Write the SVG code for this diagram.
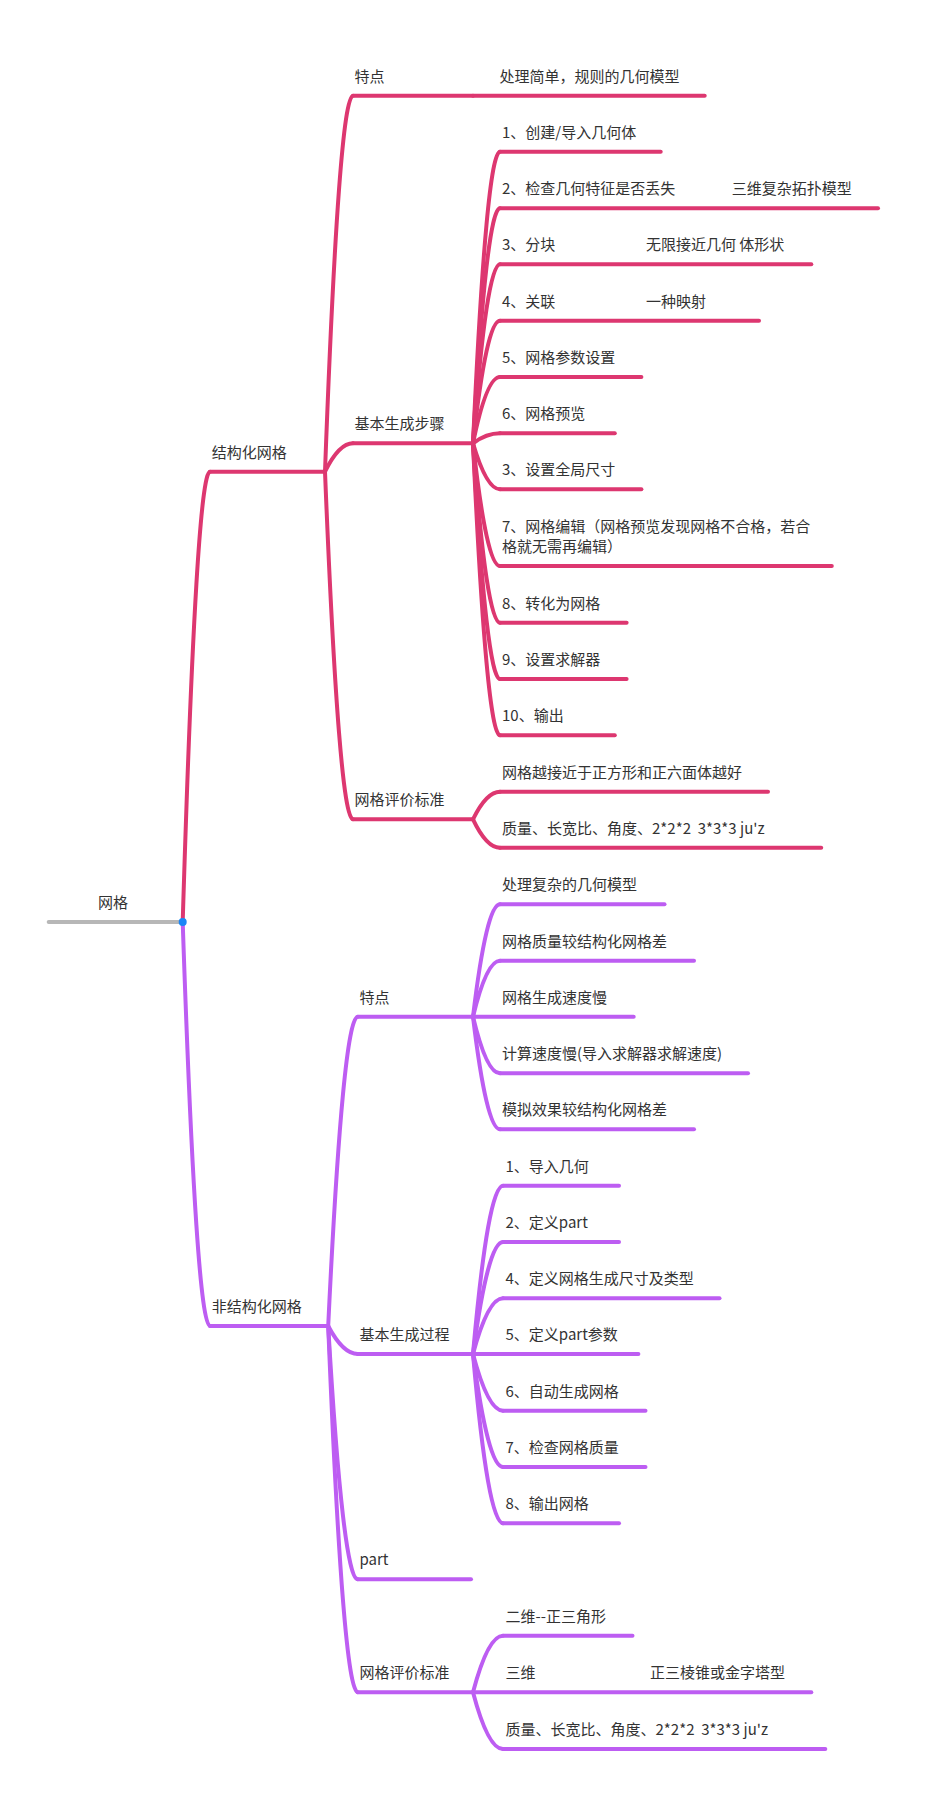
<svg xmlns="http://www.w3.org/2000/svg" width="927" height="1798" viewBox="0 0 927 1798">
<style>
.t{font-family:"Noto Sans CJK SC","Noto Sans",sans-serif;font-size:15px;fill:#333333}
.pk{stroke:#DD3770;stroke-width:4;fill:none;stroke-linecap:round;stroke-linejoin:round}
.pu{stroke:#BD5DF2;stroke-width:4;fill:none;stroke-linecap:round;stroke-linejoin:round}
</style>
<rect width="927" height="1798" fill="#ffffff"/>
<g id="connectors">
  <!-- root trunk -->
  <path class="pk" d="M182.7 922 Q196.4 471.7 210 471.7"/>
  <path class="pu" d="M182.7 922 Q196.4 1326 210 1326"/>
  <!-- structured L1 -> L2 -->
  <path class="pk" d="M325 471.7 Q339 95.7 353 95.7"/>
  <path class="pk" d="M325 471.7 Q339 443.3 353 443.3"/>
  <path class="pk" d="M325 471.7 Q339 819.3 353 819.3"/>
  <!-- structured steps -->
  <path class="pk" d="M473 443.3 Q486.5 151.7 500 151.7"/>
  <path class="pk" d="M473 443.3 Q486.5 208.3 500 208.3"/>
  <path class="pk" d="M473 443.3 Q486.5 264.3 500 264.3"/>
  <path class="pk" d="M473 443.3 Q486.5 320.7 500 320.7"/>
  <path class="pk" d="M473 443.3 Q486.5 377 500 377"/>
  <path class="pk" d="M473 443.3 Q486.5 433.3 500 433.3"/>
  <path class="pk" d="M473 443.3 Q486.5 489.3 500 489.3"/>
  <path class="pk" d="M473 443.3 Q486.5 566 500 566"/>
  <path class="pk" d="M473 443.3 Q486.5 622.7 500 622.7"/>
  <path class="pk" d="M473 443.3 Q486.5 679 500 679"/>
  <path class="pk" d="M473 443.3 Q486.5 735.3 500 735.3"/>
  <!-- structured evaluation -->
  <path class="pk" d="M473 819.3 Q486.5 791.7 500 791.7"/>
  <path class="pk" d="M473 819.3 Q486.5 847.7 500 847.7"/>
  <!-- unstructured L1 -> L2 -->
  <path class="pu" d="M328.2 1326 Q343 1016.7 357.8 1016.7"/>
  <path class="pu" d="M328.2 1326 Q343 1354 357.8 1354"/>
  <path class="pu" d="M328.2 1326 Q343 1579.3 357.8 1579.3"/>
  <path class="pu" d="M328.2 1326 Q343 1692.2 357.8 1692.2"/>
  <!-- unstructured features -->
  <path class="pu" d="M473 1016.7 Q486.5 904.3 500 904.3"/>
  <path class="pu" d="M473 1016.7 Q486.5 960.7 500 960.7"/>
  <path class="pu" d="M473 1016.7 Q486.5 1073.3 500 1073.3"/>
  <path class="pu" d="M473 1016.7 Q486.5 1129.3 500 1129.3"/>
  <!-- unstructured process -->
  <path class="pu" d="M473 1354 Q488 1185.7 503 1185.7"/>
  <path class="pu" d="M473 1354 Q488 1242 503 1242"/>
  <path class="pu" d="M473 1354 Q488 1298.3 503 1298.3"/>
  <path class="pu" d="M473 1354 Q488 1410.7 503 1410.7"/>
  <path class="pu" d="M473 1354 Q488 1467 503 1467"/>
  <path class="pu" d="M473 1354 Q488 1523.3 503 1523.3"/>
  <!-- unstructured evaluation -->
  <path class="pu" d="M473 1692.2 Q488 1635.7 503 1635.7"/>
  <path class="pu" d="M473 1692.2 Q488 1749 503 1749"/>
</g>

<g id="root">
  <line x1="48.7" y1="922" x2="182" y2="922" stroke="#B7B7B7" stroke-width="4" stroke-linecap="round"/>
  <text class="t" x="98" y="908">网格</text>
  <circle cx="182.7" cy="922" r="4" fill="#1A86F7"/>
</g>

<!-- structured -->
<g id="n-structured">
  <line class="pk" x1="210" y1="471.7" x2="325" y2="471.7"/>
  <text class="t" x="211.7" y="457.7">结构化网格</text>
</g>
<g id="n-s-feature">
  <line class="pk" x1="353" y1="95.7" x2="473" y2="95.7"/>
  <text class="t" x="354.5" y="81.7">特点</text>
</g>
<g id="n-s-feature-1">
  <line class="pk" x1="473" y1="95.7" x2="704.7" y2="95.7"/>
  <text class="t" x="499.5" y="81.7">处理简单，规则的几何模型</text>
</g>
<g id="n-s-steps">
  <line class="pk" x1="353" y1="443.3" x2="473" y2="443.3"/>
  <text class="t" x="354.5" y="429.3">基本生成步骤</text>
</g>
<g id="n-s-step-1">
  <line class="pk" x1="500" y1="151.7" x2="660.7" y2="151.7"/>
  <text class="t" x="502" y="137.7">1、创建/导入几何体</text>
</g>
<g id="n-s-step-2">
  <line class="pk" x1="500" y1="208.3" x2="878" y2="208.3"/>
  <text class="t" y="194.3"><tspan x="502">2、检查几何特征是否丢失</tspan><tspan x="731.7">三维复杂拓扑模型</tspan></text>
</g>
<g id="n-s-step-3">
  <line class="pk" x1="500" y1="264.3" x2="811.3" y2="264.3"/>
  <text class="t" y="250.3"><tspan x="502">3、分块</tspan><tspan x="646">无限接近几何 体形状</tspan></text>
</g>
<g id="n-s-step-4">
  <line class="pk" x1="500" y1="320.7" x2="759" y2="320.7"/>
  <text class="t" y="306.7"><tspan x="502">4、关联</tspan><tspan x="646">一种映射</tspan></text>
</g>
<g id="n-s-step-5">
  <line class="pk" x1="500" y1="377" x2="641.4" y2="377"/>
  <text class="t" x="502" y="363">5、网格参数设置</text>
</g>
<g id="n-s-step-6">
  <line class="pk" x1="500" y1="433.3" x2="614.8" y2="433.3"/>
  <text class="t" x="502" y="419.3">6、网格预览</text>
</g>
<g id="n-s-step-3b">
  <line class="pk" x1="500" y1="489.3" x2="641.4" y2="489.3"/>
  <text class="t" x="502" y="475.3">3、设置全局尺寸</text>
</g>
<g id="n-s-step-7">
  <line class="pk" x1="500" y1="566" x2="831.8" y2="566"/>
  <text class="t"><tspan x="502" y="532.3">7、网格编辑（网格预览发现网格不合格，若合</tspan><tspan x="502" y="552">格就无需再编辑）</tspan></text>
</g>
<g id="n-s-step-8">
  <line class="pk" x1="500" y1="622.7" x2="626.6" y2="622.7"/>
  <text class="t" x="502" y="608.7">8、转化为网格</text>
</g>
<g id="n-s-step-9">
  <line class="pk" x1="500" y1="679" x2="626.6" y2="679"/>
  <text class="t" x="502" y="665">9、设置求解器</text>
</g>
<g id="n-s-step-10">
  <line class="pk" x1="500" y1="735.3" x2="614.8" y2="735.3"/>
  <text class="t" x="502" y="721.3">10、输出</text>
</g>
<g id="n-s-eval">
  <line class="pk" x1="353" y1="819.3" x2="473" y2="819.3"/>
  <text class="t" x="354.5" y="805.3">网格评价标准</text>
</g>
<g id="n-s-eval-1">
  <line class="pk" x1="500" y1="791.7" x2="768" y2="791.7"/>
  <text class="t" x="502" y="777.7">网格越接近于正方形和正六面体越好</text>
</g>
<g id="n-s-eval-2">
  <line class="pk" x1="500" y1="847.7" x2="821.2" y2="847.7"/>
  <text class="t" x="502" y="833.7" xml:space="preserve">质量、长宽比、角度、2*2*2  3*3*3 ju'z</text>
</g>

<!-- unstructured -->
<g id="n-unstructured">
  <line class="pu" x1="210" y1="1326" x2="328.2" y2="1326"/>
  <text class="t" x="211.7" y="1312">非结构化网格</text>
</g>
<g id="n-u-feature">
  <line class="pu" x1="357.8" y1="1016.7" x2="473" y2="1016.7"/>
  <text class="t" x="359.5" y="1002.7">特点</text>
</g>
<g id="n-u-feature-1">
  <line class="pu" x1="500" y1="904.3" x2="664.5" y2="904.3"/>
  <text class="t" x="502" y="890.3">处理复杂的几何模型</text>
</g>
<g id="n-u-feature-2">
  <line class="pu" x1="500" y1="960.7" x2="694" y2="960.7"/>
  <text class="t" x="502" y="946.7">网格质量较结构化网格差</text>
</g>
<g id="n-u-feature-3">
  <line class="pu" x1="473" y1="1016.7" x2="633.7" y2="1016.7"/>
  <text class="t" x="502" y="1002.7">网格生成速度慢</text>
</g>
<g id="n-u-feature-4">
  <line class="pu" x1="500" y1="1073.3" x2="748" y2="1073.3"/>
  <text class="t" x="502" y="1059.3">计算速度慢(导入求解器求解速度)</text>
</g>
<g id="n-u-feature-5">
  <line class="pu" x1="500" y1="1129.3" x2="694" y2="1129.3"/>
  <text class="t" x="502" y="1115.3">模拟效果较结构化网格差</text>
</g>
<g id="n-u-process">
  <line class="pu" x1="357.8" y1="1354" x2="473" y2="1354"/>
  <text class="t" x="359.5" y="1340">基本生成过程</text>
</g>
<g id="n-u-process-1">
  <line class="pu" x1="503" y1="1185.7" x2="619" y2="1185.7"/>
  <text class="t" x="505.5" y="1171.7">1、导入几何</text>
</g>
<g id="n-u-process-2">
  <line class="pu" x1="503" y1="1242" x2="619" y2="1242"/>
  <text class="t" x="505.5" y="1228">2、定义part</text>
</g>
<g id="n-u-process-4">
  <line class="pu" x1="503" y1="1298.3" x2="719.5" y2="1298.3"/>
  <text class="t" x="505.5" y="1284.3">4、定义网格生成尺寸及类型</text>
</g>
<g id="n-u-process-5">
  <line class="pu" x1="473" y1="1354" x2="638.4" y2="1354"/>
  <text class="t" x="505.5" y="1340">5、定义part参数</text>
</g>
<g id="n-u-process-6">
  <line class="pu" x1="503" y1="1410.7" x2="645.5" y2="1410.7"/>
  <text class="t" x="505.5" y="1396.7">6、自动生成网格</text>
</g>
<g id="n-u-process-7">
  <line class="pu" x1="503" y1="1467" x2="645.5" y2="1467"/>
  <text class="t" x="505.5" y="1453">7、检查网格质量</text>
</g>
<g id="n-u-process-8">
  <line class="pu" x1="503" y1="1523.3" x2="619" y2="1523.3"/>
  <text class="t" x="505.5" y="1509.3">8、输出网格</text>
</g>
<g id="n-u-part">
  <line class="pu" x1="357.8" y1="1579.3" x2="471" y2="1579.3"/>
  <text class="t" x="359.5" y="1565.3">part</text>
</g>
<g id="n-u-eval">
  <line class="pu" x1="357.8" y1="1692.2" x2="473" y2="1692.2"/>
  <text class="t" x="359.5" y="1678.2">网格评价标准</text>
</g>
<g id="n-u-eval-1">
  <line class="pu" x1="503" y1="1635.7" x2="632.5" y2="1635.7"/>
  <text class="t" x="505.5" y="1621.7">二维--正三角形</text>
</g>
<g id="n-u-eval-2">
  <line class="pu" x1="473" y1="1692.2" x2="811.3" y2="1692.2"/>
  <text class="t" y="1678.2"><tspan x="505.5">三维</tspan><tspan x="650">正三棱锥或金字塔型</tspan></text>
</g>
<g id="n-u-eval-3">
  <line class="pu" x1="503" y1="1749" x2="825.3" y2="1749"/>
  <text class="t" x="505.5" y="1735" xml:space="preserve">质量、长宽比、角度、2*2*2  3*3*3 ju'z</text>
</g>
</svg>
